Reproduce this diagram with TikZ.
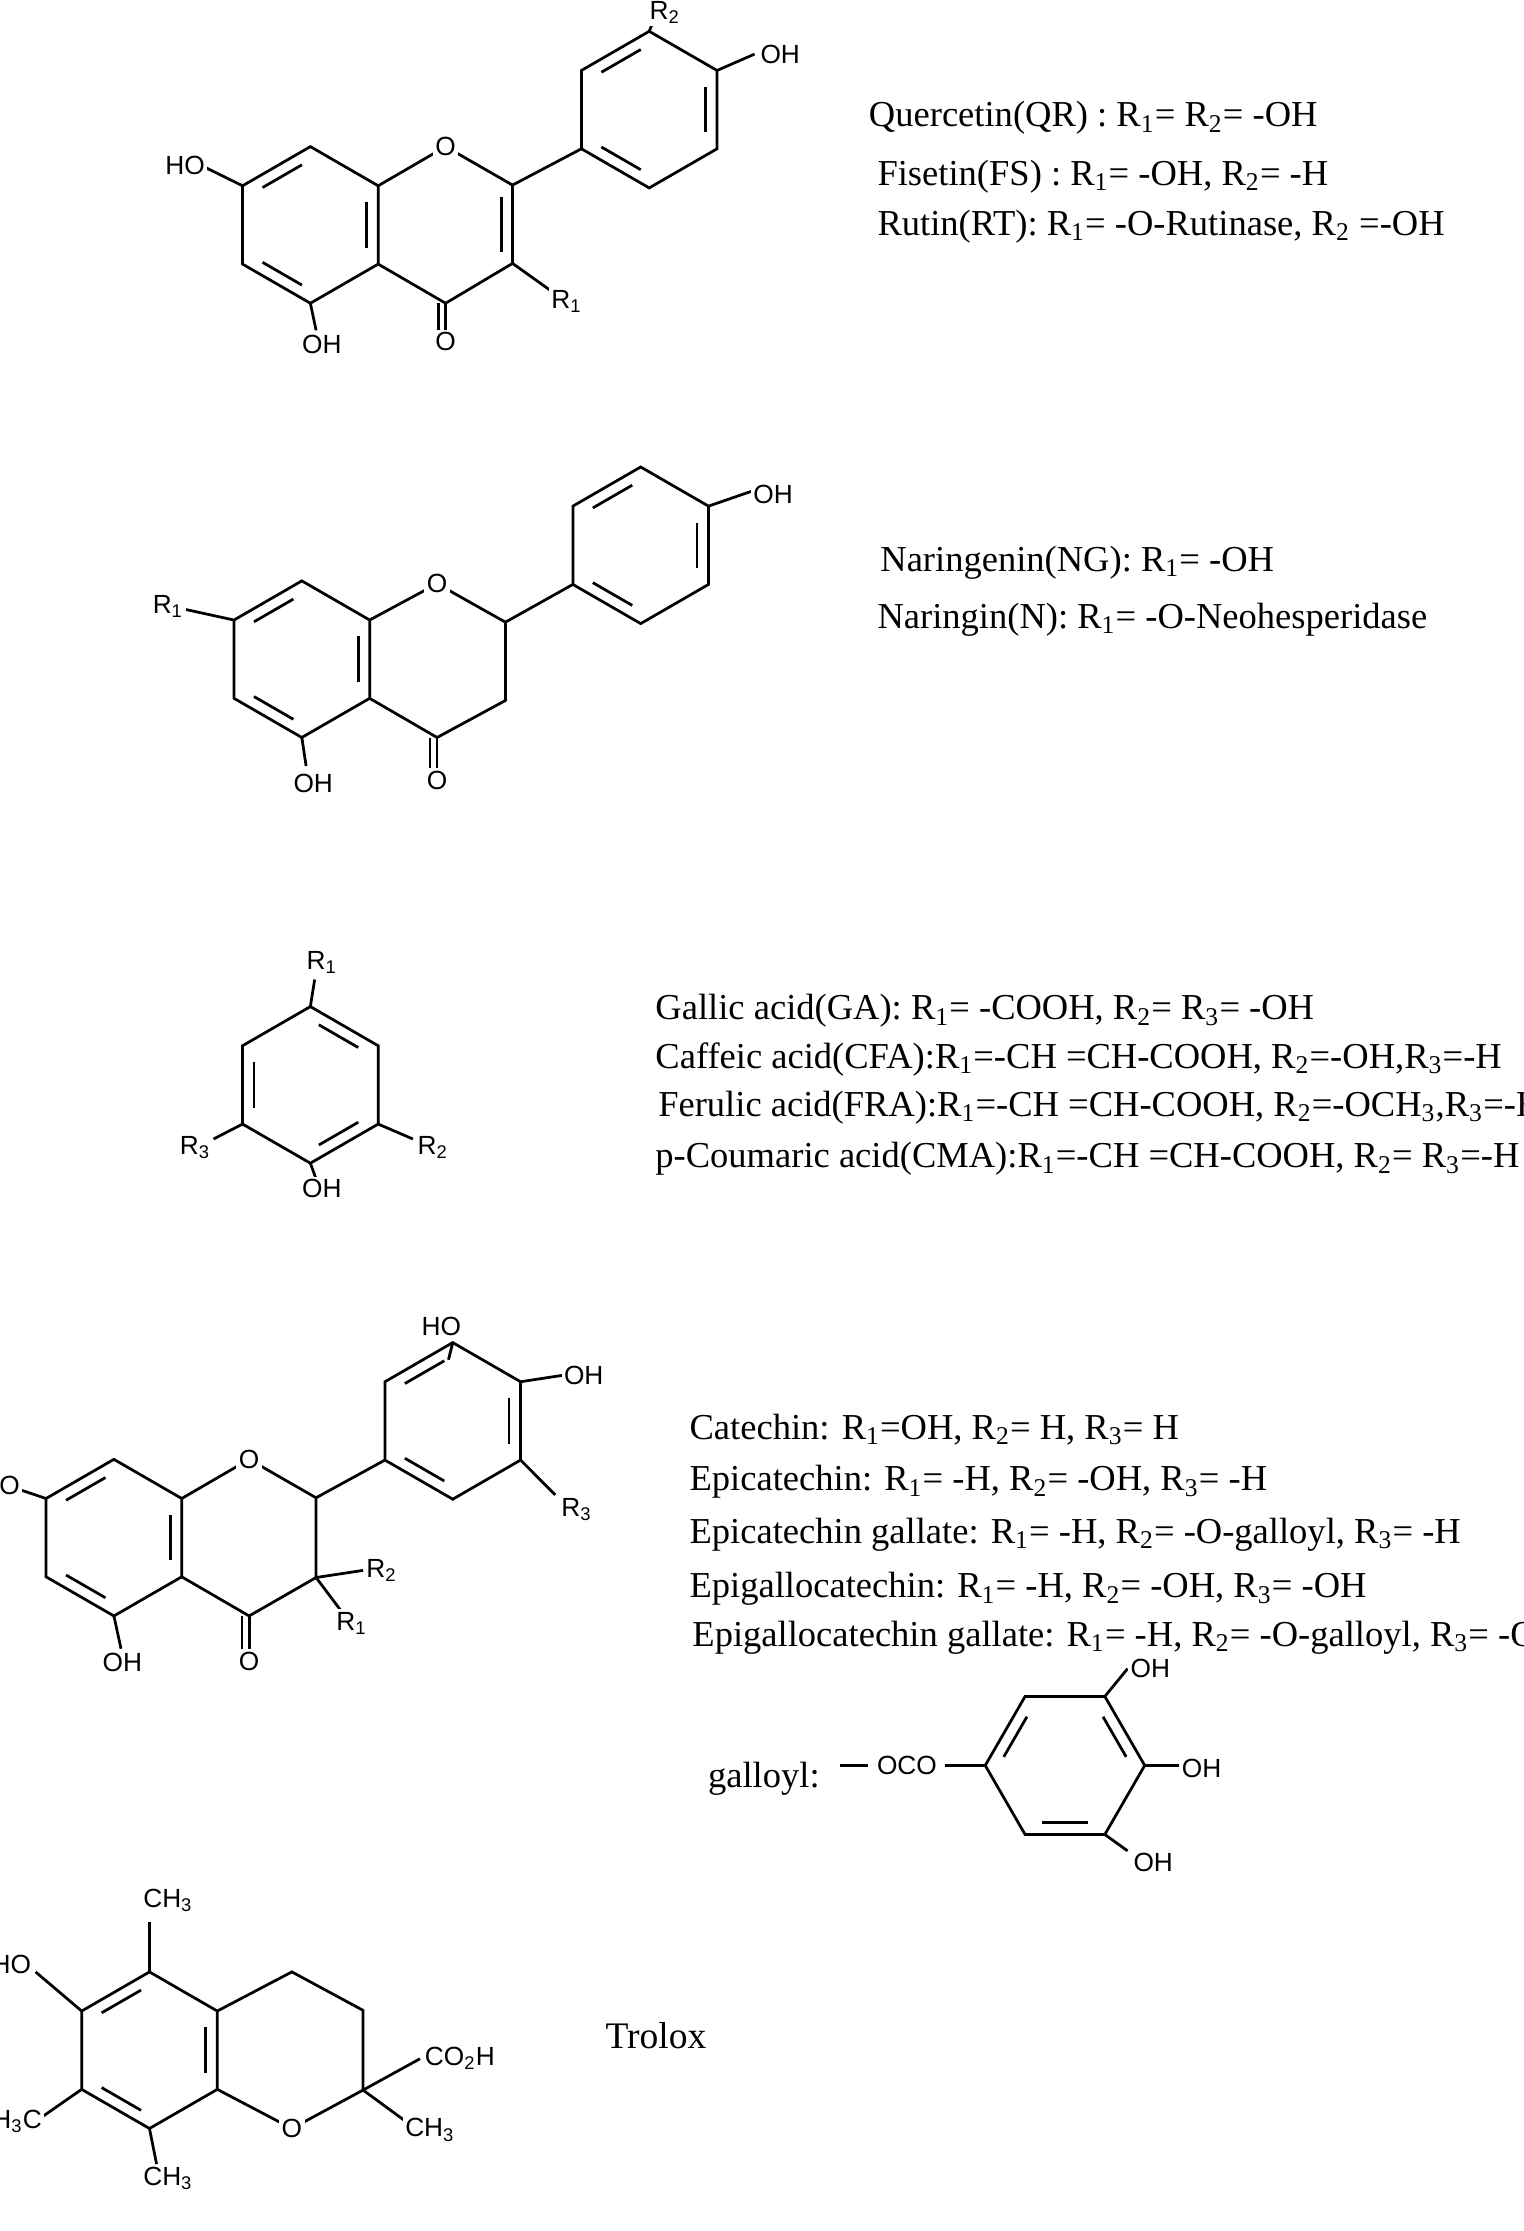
\documentclass[tikz,border=0pt]{standalone}
\usepackage{fontspec}
\setmainfont{Liberation Serif}
\newfontfamily\atomf{Liberation Sans}
\usetikzlibrary{calc}
\tikzset{bond/.style={line width=1.1pt},
 atom/.style={font=\atomf\fontsize{10.5}{12}\selectfont,inner sep=1pt,fill=white},
 txt/.style={font=\fontsize{14.6}{17}\selectfont,anchor=west,inner sep=0pt}}
\newcommand{\dbl}[3]{\draw[bond] ($($(#1)!0.15!(#2)$)!0.17!(#3)$) -- ($($(#1)!0.85!(#2)$)!0.17!(#3)$);}
\newcommand{\hexa}[7]{%
 \coordinate (#1c) at (#2,#3);
 \foreach \i in {1,...,6}{\coordinate (#1\i) at ($(#2,#3)+({#5+60*(\i-1)}:#4)$);}
 \draw[bond] (#11)--(#12)--(#13)--(#14)--(#15)--(#16)--cycle;}
\begin{document}
\begin{tikzpicture}[x=0.02cm,y=-0.02cm]
\useasboundingbox (0,0) rectangle (1070,1567);
\clip (0,0) rectangle (1070,1567);
% ===== Structure 1 =====
\hexa{a}{218}{158}{55}{90}{}{}
\hexa{b}{456}{77}{55}{90}{}{}
\coordinate (o1) at (313,103); \coordinate (c2) at (360,130); \coordinate (c3) at (360,185); \coordinate (c4) at (313,213);
\draw[bond] (a5)--(o1)--(c2)--(c3)--(c4)--(a6);
\dbl{a1}{a2}{ac}\dbl{a3}{a4}{ac}\dbl{a5}{a6}{ac}
\draw[bond] ($(c2)!0.15!(c3)+(-8,0)$) -- ($(c2)!0.85!(c3)+(-8,0)$);
\draw[bond] (c4)--(313,232); \draw[bond] (308,213) -- (308,232);
\draw[bond] (c2)--(b2);
\dbl{b1}{b2}{bc}\dbl{b3}{b4}{bc}\dbl{b5}{b6}{bc}
\draw[bond] (b4)--(460,12); \draw[bond] (b5)--(530,38);
\draw[bond] (a3)--(145,118); \draw[bond] (a1)--(222,232); \draw[bond] (c3)--(388,205);
\node[atom] (O1) at (o1) {O};
\node[atom] at (313,240) {O};
\node[atom] at (130,116) {HO};
\node[atom] at (226,242) {OH};
\node[atom] at (398,212) {R\textsubscript{1}};
\node[atom] at (467,9) {R\textsubscript{2}};
\node[atom] at (548,38) {OH};
\node[txt] at (610,83) {Quercetin(QR) : R\textsubscript{1}= R\textsubscript{2}= -OH};
\node[txt] at (616,124) {Fisetin(FS) : R\textsubscript{1}= -OH, R\textsubscript{2}= -H};
\node[txt] at (616,159) {Rutin(RT): R\textsubscript{1}= -O-Rutinase, R\textsubscript{2} =-OH};
% ===== Structure 2 =====
\hexa{d}{212}{463}{55}{90}{}{}
\hexa{e}{450}{383}{55}{90}{}{}
\coordinate (o2) at (307,410); \coordinate (n2) at (355,437); \coordinate (n3) at (355,492); \coordinate (n4) at (307,518);
\draw[bond] (d5)--(o2)--(n2)--(n3)--(n4)--(d6);
\dbl{d1}{d2}{dc}\dbl{d3}{d4}{dc}\dbl{d5}{d6}{dc}
\draw[bond] (n4)--(307,540); \draw[bond] (302,518)--(302,540);
\draw[bond] (n2)--(e2);
\dbl{e1}{e2}{ec}\dbl{e3}{e4}{ec}\dbl{e5}{e6}{ec}
\draw[bond] (e5)--(528,345); \draw[bond] (d3)--(130,428); \draw[bond] (d1)--(215,538);
\node[atom] at (o2) {O};
\node[atom] at (307,548) {O};
\node[atom] at (118,426) {R\textsubscript{1}};
\node[atom] at (220,550) {OH};
\node[atom] at (543,347) {OH};
\node[txt] at (618,395) {Naringenin(NG): R\textsubscript{1}= -OH};
\node[txt] at (616,435) {Naringin(N): R\textsubscript{1}= -O-Neohesperidase};
% ===== Structure 3 =====
\hexa{f}{218}{762}{55}{90}{}{}
\dbl{f6}{f1}{fc}\dbl{f2}{f3}{fc}\dbl{f4}{f5}{fc}
\draw[bond] (f4)--(221,688); \draw[bond] (f6)--(290,800); \draw[bond] (f2)--(150,800); \draw[bond] (f1)--(222,828);
\node[atom] at (226,676) {R\textsubscript{1}};
\node[atom] at (304,806) {R\textsubscript{2}};
\node[atom] at (137,806) {R\textsubscript{3}};
\node[atom] at (226,835) {OH};
\node[txt] at (460,710) {Gallic acid(GA): R\textsubscript{1}= -COOH, R\textsubscript{2}= R\textsubscript{3}= -OH};
\node[txt] at (460,744) {Caffeic acid(CFA):R\textsubscript{1}=-CH =CH-COOH, R\textsubscript{2}=-OH,R\textsubscript{3}=-H};
\node[txt] at (462,778) {Ferulic acid(FRA):R\textsubscript{1}=-CH =CH-COOH, R\textsubscript{2}=-OCH\textsubscript{3},R\textsubscript{3}=-H};
\node[txt] at (460,814) {p-Coumaric acid(CMA):R\textsubscript{1}=-CH =CH-COOH, R\textsubscript{2}= R\textsubscript{3}=-H};
% ===== Structure 4 =====
\hexa{g}{80}{1080}{55}{90}{}{}
\hexa{h}{318}{998}{55}{90}{}{}
\coordinate (o4) at (175,1025); \coordinate (m2) at (222,1052); \coordinate (m3) at (222,1108); \coordinate (m4) at (175,1135);
\draw[bond] (g5)--(o4)--(m2)--(m3)--(m4)--(g6);
\dbl{g1}{g2}{gc}\dbl{g3}{g4}{gc}\dbl{g5}{g6}{gc}
\draw[bond] (m4)--(175,1158); \draw[bond] (170,1135)--(170,1158);
\draw[bond] (m2)--(h2);
\dbl{h1}{h2}{hc}\dbl{h3}{h4}{hc}\dbl{h5}{h6}{hc}
\draw[bond] (h4)--(315,955); \draw[bond] (h5)--(395,966); \draw[bond] (h6)--(390,1050);
\draw[bond] (m3)--(255,1103); \draw[bond] (m3)--(240,1132);
\draw[bond] (g1)--(85,1158); \draw[bond] (g3)--(10,1045);
\node[atom] at (o4) {O};
\node[atom] at (175,1167) {O};
\node[atom] at (86,1168) {OH};
\node[atom] at (0,1043) {HO};
\node[atom] at (268,1103) {R\textsubscript{2}};
\node[atom] at (247,1140) {R\textsubscript{1}};
\node[atom] at (310,932) {HO};
\node[atom] at (410,966) {OH};
\node[atom] at (405,1060) {R\textsubscript{3}};
\node[txt] at (484,1004) {Catechin: R\textsubscript{1}=OH, R\textsubscript{2}= H, R\textsubscript{3}= H};
\node[txt] at (484,1041) {Epicatechin: R\textsubscript{1}= -H, R\textsubscript{2}= -OH, R\textsubscript{3}= -H};
\node[txt] at (484,1078) {Epicatechin gallate: R\textsubscript{1}= -H, R\textsubscript{2}= -O-galloyl, R\textsubscript{3}= -H};
\node[txt] at (484,1116) {Epigallocatechin: R\textsubscript{1}= -H, R\textsubscript{2}= -OH, R\textsubscript{3}= -OH};
\node[txt] at (486,1150) {Epigallocatechin gallate: R\textsubscript{1}= -H, R\textsubscript{2}= -O-galloyl, R\textsubscript{3}= -OH};
% galloyl
\node[txt] at (497,1249) {galloyl:};
\hexa{k}{748}{1240}{56}{0}{}{}
\dbl{k2}{k3}{kc}\dbl{k4}{k5}{kc}\dbl{k6}{k1}{kc}
\draw[bond] (590,1240)--(610,1240); \draw[bond] (664,1240)--(k4);
\draw[bond] (k6)--(792,1172); \draw[bond] (k1)--(830,1240); \draw[bond] (k2)--(792,1300);
\node[atom,fill=none] at (637,1240) {OCO};
\node[atom] at (808,1172) {OH};
\node[atom] at (844,1242) {OH};
\node[atom] at (810,1308) {OH};
% ===== Trolox =====
\hexa{t}{105}{1440}{55}{90}{}{}
\coordinate (t2a) at (205,1385); \coordinate (t3a) at (255,1412); \coordinate (t4a) at (255,1468); \coordinate (o5) at (205,1495);
\draw[bond] (t5)--(t2a)--(t3a)--(t4a)--(o5)--(t6);
\dbl{t1}{t2}{tc}\dbl{t3}{t4}{tc}\dbl{t5}{t6}{tc}
\draw[bond] (t4)--(105,1350); \draw[bond] (t3)--(25,1385); \draw[bond] (t2)--(25,1490); \draw[bond] (t1)--(110,1520);
\draw[bond] (t4a)--(295,1446); \draw[bond] (t4a)--(285,1490);
\node[atom] at (o5) {O};
\node[atom] at (118,1335) {CH\textsubscript{3}};
\node[atom] at (8,1380) {HO};
\node[atom] at (12,1490) {H\textsubscript{3}C};
\node[atom] at (118,1530) {CH\textsubscript{3}};
\node[atom] at (323,1446) {CO\textsubscript{2}H};
\node[atom] at (302,1496) {CH\textsubscript{3}};
\node[txt,font=\fontsize{15}{17}\selectfont] at (425,1430) {Trolox};
\end{tikzpicture}
\end{document}
